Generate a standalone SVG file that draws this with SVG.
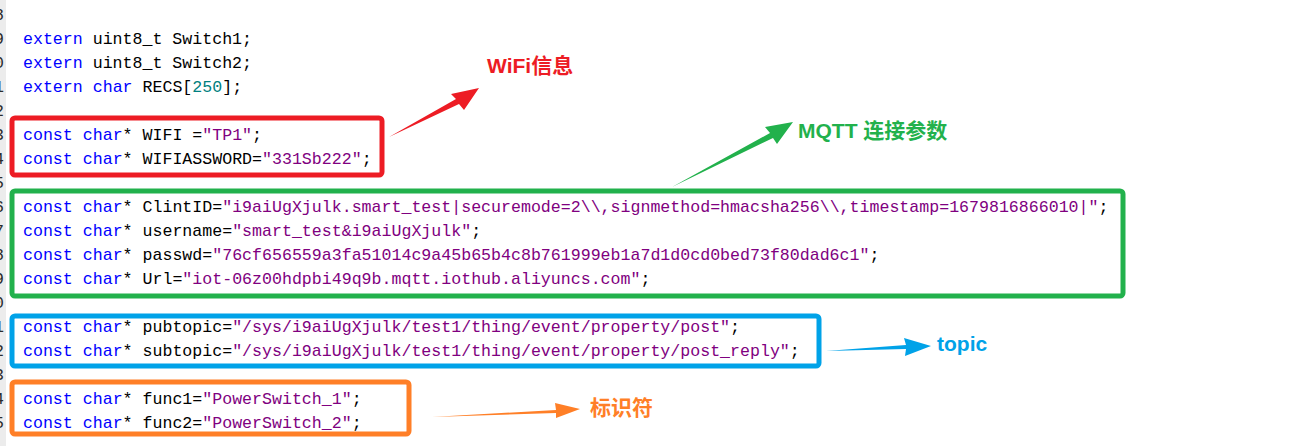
<svg xmlns="http://www.w3.org/2000/svg" width="1310" height="446" viewBox="0 0 1310 446">
<style>
.c{font-family:"Liberation Mono",monospace;font-size:16.6px;fill:#000}
.k{fill:#0000ff}.s{fill:#800080}.n{fill:#008080}
.ln{font-family:"Liberation Mono",monospace;font-size:16.6px;fill:#2b2b2b}
.box{fill:none;stroke-width:5;rx:3}
.lab{font-family:"Liberation Sans","Noto Sans CJK SC",sans-serif;font-weight:bold;font-size:21px}
</style>
<rect width="1310" height="446" fill="#fff"/>
<rect x="0" y="0" width="6" height="446" fill="#ececec"/>
<g id="gutter" class="ln">
<text x="-6" y="20">8</text><text x="-6" y="44">9</text><text x="-6" y="68">0</text><text x="-6" y="92">1</text><text x="-6" y="116">2</text><text x="-6" y="140">3</text><text x="-6" y="164">4</text><text x="-6" y="188">5</text><text x="-6" y="212">6</text><text x="-6" y="236">7</text><text x="-6" y="260">8</text><text x="-6" y="284">9</text><text x="-6" y="308">0</text><text x="-6" y="332">1</text><text x="-6" y="356">2</text><text x="-6" y="380">3</text><text x="-6" y="404">4</text><text x="-6" y="428">5</text>
</g>
<g id="code" class="c" xml:space="preserve">
<text x="23" y="44"><tspan class="k">extern</tspan> uint8_t Switch1;</text>
<text x="23" y="68"><tspan class="k">extern</tspan> uint8_t Switch2;</text>
<text x="23" y="92"><tspan class="k">extern</tspan> <tspan class="k">char</tspan> RECS[<tspan class="n">250</tspan>];</text>
<text x="23" y="140"><tspan class="k">const</tspan> <tspan class="k">char</tspan>* WIFI =<tspan class="s">"TP1"</tspan>;</text>
<text x="23" y="164"><tspan class="k">const</tspan> <tspan class="k">char</tspan>* WIFIASSWORD=<tspan class="s">"331Sb222"</tspan>;</text>
<text x="23" y="212"><tspan class="k">const</tspan> <tspan class="k">char</tspan>* ClintID=<tspan class="s">"i9aiUgXjulk.smart_test|securemode=2\\,signmethod=hmacsha256\\,timestamp=1679816866010|"</tspan>;</text>
<text x="23" y="236"><tspan class="k">const</tspan> <tspan class="k">char</tspan>* username=<tspan class="s">"smart_test&amp;i9aiUgXjulk"</tspan>;</text>
<text x="23" y="260"><tspan class="k">const</tspan> <tspan class="k">char</tspan>* passwd=<tspan class="s">"76cf656559a3fa51014c9a45b65b4c8b761999eb1a7d1d0cd0bed73f80dad6c1"</tspan>;</text>
<text x="23" y="284"><tspan class="k">const</tspan> <tspan class="k">char</tspan>* Url=<tspan class="s">"iot-06z00hdpbi49q9b.mqtt.iothub.aliyuncs.com"</tspan>;</text>
<text x="23" y="332"><tspan class="k">const</tspan> <tspan class="k">char</tspan>* pubtopic=<tspan class="s">"/sys/i9aiUgXjulk/test1/thing/event/property/post"</tspan>;</text>
<text x="23" y="356"><tspan class="k">const</tspan> <tspan class="k">char</tspan>* subtopic=<tspan class="s">"/sys/i9aiUgXjulk/test1/thing/event/property/post_reply"</tspan>;</text>
<text x="23" y="404"><tspan class="k">const</tspan> <tspan class="k">char</tspan>* func1=<tspan class="s">"PowerSwitch_1"</tspan>;</text>
<text x="23" y="428"><tspan class="k">const</tspan> <tspan class="k">char</tspan>* func2=<tspan class="s">"PowerSwitch_2"</tspan>;</text>
</g>
<g id="wifi-box"><rect class="box" x="12" y="118" width="370" height="57" stroke="#ed1c24"/></g>
<g id="mqtt-box"><rect class="box" x="12" y="191" width="1111" height="105" stroke="#22b14c"/></g>
<g id="topic-box"><rect class="box" x="12" y="316" width="807" height="50" stroke="#00a2e8"/></g>
<g id="func-box"><rect class="box" x="12" y="382" width="397" height="52" stroke="#ff7f27"/></g>
<g id="labels" class="lab">
<text x="487" y="73" fill="#ed1c24">WiFi信息</text>
<text x="798" y="138" fill="#22b14c">MQTT 连接参数</text>
<text x="937" y="351" fill="#00a2e8">topic</text>
<text x="590" y="415" fill="#ff7f27">标识符</text>
</g>
<g id="connectors">
<polygon points="389,137 456,99 451,94 479,88 464,110 459,104" fill="#ed1c24"/>
<polygon points="672,187 770,133 765,127 793,122 777,144 773,138" fill="#22b14c"/>
<polygon points="826,351 906,345 904,338 931,346 905,356 906,349" fill="#00a2e8"/>
<polygon points="432,417 556,410 555,403 580,409 556,418 556,413" fill="#ff7f27"/>
</g>
</svg>
